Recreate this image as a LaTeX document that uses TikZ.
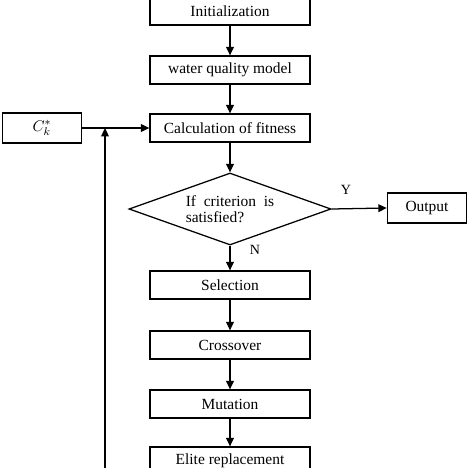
\documentclass[tikz,border=0pt]{standalone}
\usepackage{amsmath,amssymb}
\usepackage{fontspec}
\setmainfont{Liberation Serif}
\usetikzlibrary{arrows.meta,calc,positioning,shapes.geometric}

\tikzset{
    stepbox/.style={draw,line width=0.9pt,minimum width=4cm,minimum height=0.7cm,inner sep=0pt,font=\fontsize{11}{13}\selectfont},
    decision/.style={diamond,draw,line width=0.9pt,aspect=2.8,minimum width=5.05cm,minimum height=1.8cm,inner sep=0pt,align=left,font=\fontsize{11}{11}\selectfont},
    flow/.style={line width=0.9pt,-{Triangle[length=6pt,width=5.5pt]}}
}

\begin{document}
\begin{tikzpicture}[x=0.025cm,y=-0.025cm]
    \clip (0,0) rectangle (468,468);
    % main column
    \node[stepbox] (init) at (230,11) {Initialization};
    \node[stepbox] (wqm) at (230,70) {water quality model};
    \node[stepbox] (fit) at (230,128) {Calculation of fitness};
    \node[decision] (crit) at (230,209) {If\ \ criterion\ \ is\\satisfied?};
    \node[stepbox] (sel) at (230,285) {Selection};
    \node[stepbox] (cross) at (230,345) {Crossover};
    \node[stepbox] (mut) at (230,404) {Mutation};
    \node[stepbox] (elite) at (230,461) {Elite replacement};
    % side boxes
    \node[stepbox,minimum width=1.98cm,minimum height=0.75cm] (out) at (427,208) {Output};
    \node[stepbox,minimum width=1.98cm,minimum height=0.75cm] (ck) at (42,128) {$C_k^*$};
    \node (ylab) at (346,190) {\fontsize{10}{12}\selectfont Y};
    \node (nlab) at (255,250) {\fontsize{10}{12}\selectfont N};
    \coordinate (join) at (105,128);
    % arrows
    \draw[flow] (init) -- (wqm);
    \draw[flow] (wqm) -- (fit);
    \draw[flow] (fit) -- (crit);
    \draw[flow] (crit.east) -- (out.west);
    \draw[flow] (crit.south) -- (sel);
    \draw[flow] (sel) -- (cross);
    \draw[flow] (cross) -- (mut);
    \draw[flow] (mut) -- (elite);
    \draw[flow] (ck) -- (fit);
    \draw[flow] (elite.south) -- ++(0,15) -| (join);
\end{tikzpicture}
\end{document}
